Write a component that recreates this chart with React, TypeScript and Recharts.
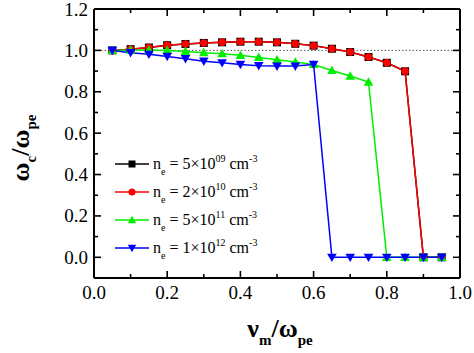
import React from "react";
import { LineChart, Line, XAxis, YAxis, ReferenceLine } from "recharts";

const xs = [0.05, 0.1, 0.15, 0.2, 0.25, 0.3, 0.35, 0.4, 0.45, 0.5, 0.55, 0.6, 0.65, 0.7, 0.75, 0.8, 0.85, 0.9, 0.95];
const ne5e9 = [1.0, 1.006, 1.014, 1.025, 1.031, 1.036, 1.039, 1.042, 1.042, 1.039, 1.032, 1.023, 1.008, 0.992, 0.968, 0.94, 0.899, 0, 0];
const ne2e10 = [1.0, 1.006, 1.014, 1.025, 1.031, 1.036, 1.039, 1.042, 1.042, 1.039, 1.032, 1.023, 1.008, 0.992, 0.968, 0.94, 0.899, 0, 0];
const ne5e11 = [1.0, 1.002, 1.002, 1.0, 0.995, 0.989, 0.984, 0.976, 0.966, 0.955, 0.944, 0.932, 0.903, 0.876, 0.847, 0, 0, 0, 0];
const ne1e12 = [1.0, 0.989, 0.981, 0.971, 0.96, 0.948, 0.94, 0.932, 0.926, 0.924, 0.924, 0.932, 0, 0, 0, 0, 0, 0, 0];

const xTicks = [0, 0.1, 0.2, 0.3, 0.4, 0.5, 0.6, 0.7, 0.8, 0.9, 1.0];
const yTicks = [0, 0.1, 0.2, 0.3, 0.4, 0.5, 0.6, 0.7, 0.8, 0.9, 1.0, 1.1, 1.2];

const seriesNames = ["5×10|09", "2×10|10", "5×10|11", "1×10|12"];
const seriesKeys = ["a", "b", "c", "d"];
const seriesColors = ["#000000", "#ff0000", "#00ee00", "#0000ff"];
const seriesShapes = ["square", "circle", "up", "down"];

const data = xs.map((x, i) => ({ x, a: ne5e9[i], b: ne2e10[i], c: ne5e11[i], d: ne1e12[i] }));

const FONT = "Liberation Serif";

const M = { top: 8, right: 4, left: 4, bottom: 5 };
const TOP_H = 1;
const RIGHT_W = 10;
const W = 474;
const H = 353;
const PLOT_TOP = M.top + TOP_H;
const PLOT_RIGHT = W - M.right - RIGHT_W;

function shape(kind: string, cx: number, cy: number, color: string, s: number, key?: any) {
  if (kind === "square") return <rect key={key} x={cx - s / 2} y={cy - s / 2} width={s} height={s} fill={color} stroke="none" />;
  if (kind === "circle") return <circle key={key} cx={cx} cy={cy} r={s / 2} fill={color} stroke="none" />;
  if (kind === "up")
    return <polygon key={key} points={`${cx},${cy - s * 0.6} ${cx - s * 0.6},${cy + s * 0.45} ${cx + s * 0.6},${cy + s * 0.45}`} fill={color} />;
  return <polygon key={key} points={`${cx},${cy + s * 0.6} ${cx - s * 0.6},${cy - s * 0.45} ${cx + s * 0.6},${cy - s * 0.45}`} fill={color} />;
}

const isMajor = (v: number) => Math.round(v * 10) % 2 === 0;

const renderBottomTick = (p: any) => {
  const v = p.payload.value;
  const m = isMajor(v);
  const len = m ? 7 : 4;
  const x = Number(p.x);
  const y = Number(p.y);
  return (
    <g key={`bt-${v}`}>
      <line x1={x} y1={y} x2={x} y2={y - len} stroke="#000" strokeWidth={1.6} />
      <line x1={x} y1={PLOT_TOP} x2={x} y2={PLOT_TOP + len} stroke="#000" strokeWidth={1.6} />
      {m && (
        <text x={x} y={y + 21} textAnchor="middle" fontSize={19} fontFamily={FONT} fill="#000" stroke="none">
          {v.toFixed(1)}
        </text>
      )}
    </g>
  );
};
const renderLeftTick = (p: any) => {
  const v = p.payload.value;
  const m = isMajor(v);
  const len = m ? 7 : 4;
  const x = Number(p.x);
  const y = Number(p.y);
  return (
    <g key={`lt-${v}`}>
      <line x1={x} y1={y} x2={x + len} y2={y} stroke="#000" strokeWidth={1.6} />
      <line x1={PLOT_RIGHT} y1={y} x2={PLOT_RIGHT - len} y2={y} stroke="#000" strokeWidth={1.6} />
      {m && (
        <text x={x - 6} y={y + 6.5} textAnchor="end" fontSize={19} fontFamily={FONT} fill="#000" stroke="none">
          {v.toFixed(1)}
        </text>
      )}
    </g>
  );
};

const legendRows = [164, 192, 220, 248];

export default function App() {
  return (
    <div style={{ position: "absolute", left: 0, top: 0, width: W, height: H, background: "#fff", fontFamily: FONT }}>
      <LineChart width={W} height={H} data={data} margin={M}>
        <XAxis
          dataKey="x"
          type="number"
          domain={[0, 1]}
          allowDataOverflow
          ticks={xTicks}
          interval={0}
          tickSize={0}
          tickMargin={0}
          tickLine={false}
          tick={renderBottomTick}
          axisLine={{ stroke: "#000", strokeWidth: 2 }}
          height={70}
        />
        <XAxis
          xAxisId="top"
          orientation="top"
          dataKey="x"
          type="number"
          domain={[0, 1]}
          allowDataOverflow
          tick={false}
          tickLine={false}
          axisLine={{ stroke: "#000", strokeWidth: 2 }}
          height={TOP_H}
        />
        <YAxis
          type="number"
          domain={[-0.1, 1.2]}
          allowDataOverflow
          ticks={yTicks}
          interval={0}
          tickSize={0}
          tickMargin={0}
          tickLine={false}
          tick={renderLeftTick}
          axisLine={{ stroke: "#000", strokeWidth: 2 }}
          width={90}
        />
        <YAxis
          yAxisId="right"
          orientation="right"
          type="number"
          domain={[-0.1, 1.2]}
          allowDataOverflow
          tick={false}
          tickLine={false}
          axisLine={{ stroke: "#000", strokeWidth: 2 }}
          width={RIGHT_W}
        />
        <ReferenceLine y={1} stroke="#555" strokeDasharray="1.5 2" strokeWidth={1} />
        {seriesKeys.map((k, i) => (
          <Line
            key={k}
            dataKey={k}
            stroke={seriesColors[i]}
            strokeWidth={1.5}
            isAnimationActive={false}
            activeDot={false}
            dot={(p: any) => shape(seriesShapes[i], p.cx, p.cy, seriesColors[i], i === 1 ? 7.5 : 8, p.key ?? `${k}-${p.index}`)}
          />
        ))}
      </LineChart>
      <svg width={W} height={H} style={{ position: "absolute", left: 0, top: 0, pointerEvents: "none" }}>
        {legendRows.map((cy, i) => {
          const [base, exp] = seriesNames[i].split("|");
          return (
            <g key={i}>
              <line x1={115} y1={cy} x2={149} y2={cy} stroke={seriesColors[i]} strokeWidth={1.5} />
              {shape(seriesShapes[i], 132, cy, seriesColors[i], 7)}
              <text x={153} y={cy + 5} fontSize={16} fontFamily={FONT} fill="#000">
                n
                <tspan dy={6} fontSize={10}>e</tspan>
                <tspan dy={-6}>{" = " + base}</tspan>
                <tspan dy={-7} fontSize={10}>{exp}</tspan>
                <tspan dy={7}>{" cm"}</tspan>
                <tspan dy={-7} fontSize={10}>-3</tspan>
              </text>
            </g>
          );
        })}
        <text transform="translate(29,148) rotate(-90)" textAnchor="middle" fontFamily={FONT} fontWeight="bold" fontSize={26} fill="#000">
          ω<tspan dy={7} fontSize={15}>c</tspan>
          <tspan dy={-7}>/ω</tspan>
          <tspan dy={7} fontSize={15}>pe</tspan>
        </text>
        <text x={280} y={337} textAnchor="middle" fontFamily={FONT} fontWeight="bold" fontSize={26} fill="#000">
          ν<tspan dy={8} fontSize={15}>m</tspan>
          <tspan dy={-8}>/ω</tspan>
          <tspan dy={8} fontSize={15}>pe</tspan>
        </text>
      </svg>
    </div>
  );
}
